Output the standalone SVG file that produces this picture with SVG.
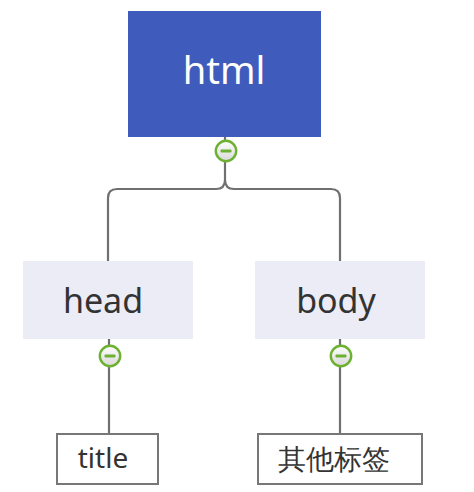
<svg xmlns="http://www.w3.org/2000/svg" width="474" height="492" viewBox="0 0 474 492">
<defs>
<linearGradient id="cg" x1="0" y1="0" x2="0" y2="1">
<stop offset="0" stop-color="#ffffff"/>
<stop offset="1" stop-color="#d9d9d9"/>
</linearGradient>
<g id="tog">
<circle cx="0" cy="0" r="10.2" fill="url(#cg)" stroke="#6cb131" stroke-width="2.4"/>
<rect x="-5.5" y="-1.5" width="11" height="3" rx="1" fill="#6cb131"/>
</g>
</defs>
<style>
.ln{fill:none;stroke:#707070;stroke-width:2.2}
.t{font-family:"Noto Sans","Open Sans","Liberation Sans",sans-serif;text-anchor:middle}
.sub{fill:#ebecf5}
.leaf{fill:#ffffff;stroke:#777777;stroke-width:2}
</style>
<rect width="474" height="492" fill="#ffffff"/>
<g id="connectors">
<path class="ln" d="M225,136 V180 Q225,189 216,189 H117 Q108,189 108,198 V261"/>
<path class="ln" d="M225,180 Q225,189 234,189 H331 Q340,189 340,198 V261"/>
<path class="ln" d="M109,339 V434"/>
<path class="ln" d="M340,339 V434"/>
</g>
<g id="html">
<rect x="128" y="11" width="193" height="126" fill="#3f5cbd"/>
<text class="t" x="224" y="84" font-size="38" fill="#ffffff">html</text>
</g>
<g id="head">
<rect class="sub" x="23" y="261" width="170" height="78"/>
<text class="t" x="103" y="313" font-size="34" fill="#333333">head</text>
</g>
<g id="body">
<rect class="sub" x="255" y="261" width="170" height="78"/>
<text class="t" x="336" y="313" font-size="34" fill="#333333">body</text>
</g>
<g id="title">
<rect class="leaf" x="57" y="434" width="101" height="50"/>
<text class="t" x="103" y="468" font-size="28" fill="#333333">title</text>
</g>
<g id="other">
<rect class="leaf" x="258" y="434" width="164" height="50"/>
<text class="t" x="334" y="469" font-size="28" fill="#333333" font-family="'Noto Sans CJK SC',sans-serif">其他标签</text>
</g>
<g id="toggles">
<use href="#tog" x="226" y="151"/>
<use href="#tog" x="110" y="356"/>
<use href="#tog" x="341" y="356"/>
</g>
</svg>
